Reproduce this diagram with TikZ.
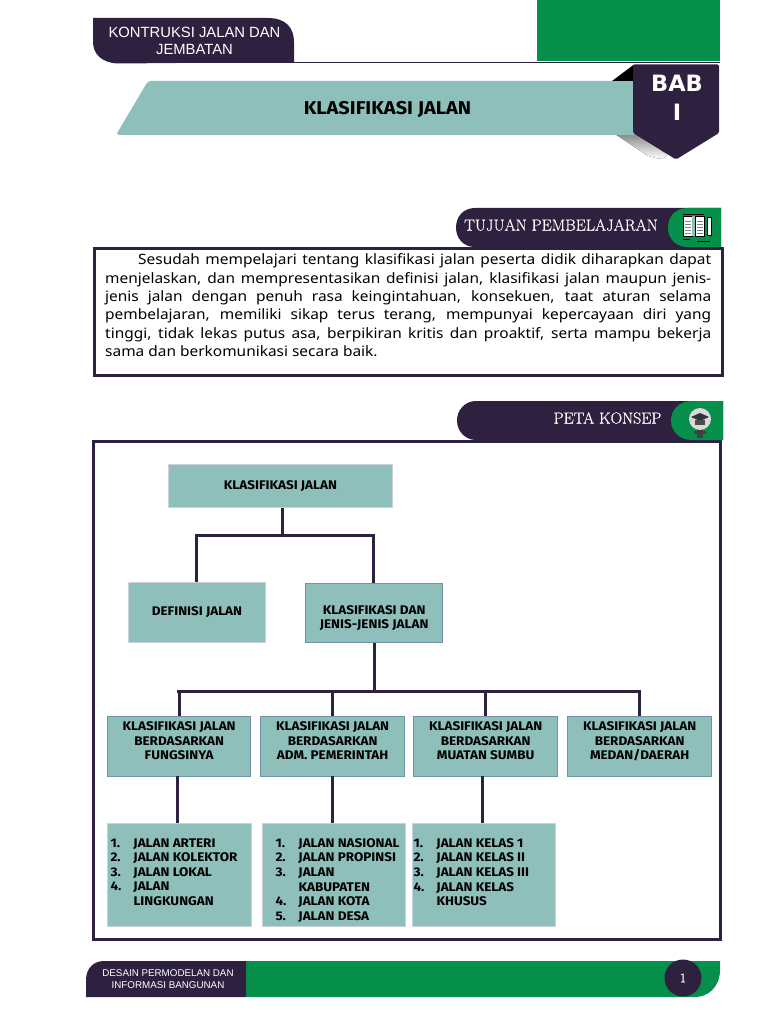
\documentclass[tikz,border=0pt]{standalone}
\usepackage{fontspec}
\setmainfont{Liberation Sans}
\newfontfamily\bodyf[FakeStretch=1.08]{Noto Sans}
\newfontfamily\boxf[FakeStretch=1.08]{Fira Sans}
\newfontfamily\babf{DejaVu Sans}
\newfontfamily\serf[FakeBold=0.5]{Latin Modern Roman}
\definecolor{ink}{HTML}{2E2140}
\definecolor{teal}{HTML}{8FBFBB}
\definecolor{grn}{HTML}{068F4A}
\definecolor{edge}{HTML}{6F93A8}
\definecolor{shade}{HTML}{C9D0DE}
\tikzset{
 x=1pt,y=-1pt,
 upperbox/.style={fill=teal,draw=shade,line width=1pt,inner sep=0pt,font=\boxf\bfseries\fontsize{12.5}{15}\selectfont,text=black,align=center},
 midbox/.style={fill=teal,draw=edge,line width=1.3pt,inner sep=0pt,font=\boxf\bfseries\fontsize{12.5}{14.7}\selectfont,text=black,align=center},
 listbox/.style={fill=teal,draw=shade,line width=1pt,inner sep=0pt,font=\boxf\bfseries\fontsize{12.5}{14.6}\selectfont,text=black,align=left,anchor=north west},
 wire/.style={draw=ink,line width=3pt},
 frame/.style={draw=ink,line width=3pt,fill=white},
 tabtext/.style={font=\serf\fontsize{16}{18}\selectfont,text=white,inner sep=0pt},
}
\newcommand{\boxat}[6]{\node[#1,minimum width=#4pt,minimum height=#5pt,anchor=north west] (#2) at (#3) {#6};}
\newcommand{\li}[2]{\makebox[23pt][l]{#1}#2\\}
\newcommand{\tailgap}{\\[-2.7pt]\mbox{}}
\begin{document}
\begin{tikzpicture}
\useasboundingbox (0,0) rectangle (768,1024);
\fill[white] (0,0) rectangle (768,1024);
% header
\fill[grn] (537,0) rectangle (720,61);
\draw[ink,line width=1.6pt] (118,62.5) -- (720,62.5);
\fill[ink] (93,18) -- (268,18) .. controls (286,18) and (294,28) .. (294,42) -- (294,62) -- (118,63.5) .. controls (102,63) and (93,54) .. (93,42) -- cycle;
\node[font=\fontsize{14.8}{17.2}\selectfont,text=white,align=center,inner sep=0pt] (htitle) at (194.5,41) {KONTRUKSI JALAN DAN\\JEMBATAN};
% ribbon
\fill[shade,rounded corners=3pt] (612,132) -- (640,132) -- (668,156) -- (660,159) -- (648,156) -- cycle;
\fill[teal,rounded corners=3pt] (148,81) -- (640,81) -- (640,135) -- (116,135) -- cycle;
\fill[black] (612,81) -- (634,64.5) -- (634,81) -- cycle;
\fill[ink,rounded corners=1.5pt] (633,64.5) -- (719,64.5) -- (719,133) -- (676,159.5) -- (633,133) -- cycle;
\node[font=\boxf\bfseries\fontsize{18.5}{22}\selectfont,text=black,inner sep=0pt] (rtitle) at (387.5,109) {KLASIFIKASI JALAN};
\node[font=\babf\bfseries\fontsize{22.5}{29}\selectfont,text=white,align=center,inner sep=0pt] (bab) at (677,97.5) {BAB\\I};
% tujuan
\fill[ink] (475,208) -- (721,208) -- (721,247) -- (475,247) .. controls (463,247) and (456,238) .. (456,227.5) .. controls (456,217) and (463,208) .. (475,208) -- cycle;
\fill[grn] (721,208) -- (688,208) .. controls (675,208) and (668,217) .. (668,227.5) .. controls (668,238) and (675,247) .. (688,247) -- (721,247) -- cycle;
\node[tabtext] (tuj) at (561,225) {TUJUAN PEMBELAJARAN};
\fill[white,draw=black,line width=.5pt] (683,216) rectangle (692,236);
\fill[white,draw=black,line width=.5pt] (695,216) rectangle (704,236);
\fill[teal] (692,216) rectangle (695,236);
\foreach \yy in {221,224,227,230,233}{\draw[gray,line width=.8pt] (684.5,\yy) -- (690.5,\yy) (696.5,\yy) -- (702.5,\yy);}
\fill[white,draw=black,line width=.5pt] (707,217) rectangle (711,235);
\draw[black,line width=.5pt] (683,214) -- (704,214) (683,239) -- (690,239) (697,241) -- (710,241);
% text frame
\draw[frame] (94,248) rectangle (722,375);
\node[anchor=north west,inner sep=0pt,text width=606pt,align=justify,font=\bodyf\fontsize{14.3}{18.45}\selectfont,text=black] (goal) at (105,253.5) {\hspace*{33pt}Sesudah mempelajari tentang klasifikasi jalan peserta didik diharapkan dapat\linebreak
menjelaskan, dan mempresentasikan definisi jalan, klasifikasi jalan maupun jenis-\linebreak
jenis jalan dengan penuh rasa keingintahuan, konsekuen, taat aturan selama\linebreak
pembelajaran, memiliki sikap terus terang, mempunyai kepercayaan diri yang\linebreak
tinggi, tidak lekas putus asa, berpikiran kritis dan proaktif, serta mampu bekerja\linebreak
sama dan berkomunikasi secara baik.};
% peta
\draw[frame] (93,441) rectangle (720,939);
\fill[ink] (476,401) -- (723,401) -- (723,440) -- (476,440) .. controls (465,440) and (457,431) .. (457,420.5) .. controls (457,410) and (465,401) .. (476,401) -- cycle;
\fill[grn] (723,401) -- (692,401) .. controls (679,401) and (671,410) .. (671,420.5) .. controls (671,431) and (679,440) .. (692,440) -- (723,440) -- cycle;
\node[tabtext] (peta) at (607.5,418) {PETA KONSEP};
\fill[black!75] (697,426) rectangle (703,438);
\fill[black!75] (694,431) rectangle (706,434);
\fill[white!85!black] (700,419) circle (11);
\fill[black!80] (691,417) -- (700,413) -- (709,417) -- (700,421) -- cycle;
\fill[black!70] (695,420) -- (705,420) -- (705,425) -- (695,425) -- cycle;
% boxes
\boxat{upperbox}{root}{168,464}{224}{43}{\raisebox{-1.5pt}{KLASIFIKASI JALAN}}
\boxat{upperbox}{defn}{128,582}{137}{60}{\raisebox{-2.5pt}{DEFINISI JALAN}}
\boxat{midbox}{kind}{305,583}{137}{59}{\rule{0pt}{9pt}\\[-4.7pt]KLASIFIKASI DAN\\JENIS-JENIS JALAN}
\boxat{midbox}{fa}{107,716}{143}{60}{KLASIFIKASI JALAN\\BERDASARKAN\\FUNGSINYA\tailgap}
\boxat{midbox}{fb}{260,716}{144}{60}{KLASIFIKASI JALAN\\BERDASARKAN\\ADM. PEMERINTAH\tailgap}
\boxat{midbox}{fc}{413,716}{144}{60}{KLASIFIKASI JALAN\\BERDASARKAN\\MUATAN SUMBU\tailgap}
\boxat{midbox}{fd}{567,716}{144}{60}{KLASIFIKASI JALAN\\BERDASARKAN\\MEDAN/DAERAH\tailgap}
\node[listbox,minimum width=144pt,minimum height=103pt] (la) at (107,823) {};
\node[listbox,minimum width=143pt,minimum height=103pt] (lb) at (262,823) {};
\node[listbox,minimum width=143pt,minimum height=103pt] (lc) at (412,823) {};
\node[listbox,anchor=north west,draw=none,fill=none] (ta) at (110,838) {\li{1.}{JALAN ARTERI}\li{2.}{JALAN KOLEKTOR}\li{3.}{JALAN LOKAL}\li{4.}{JALAN}\li{}{LINGKUNGAN}};
\node[listbox,anchor=north west,draw=none,fill=none] (tb) at (275,838) {\li{1.}{JALAN NASIONAL}\li{2.}{JALAN PROPINSI}\li{3.}{JALAN}\li{}{KABUPATEN}\li{4.}{JALAN KOTA}\li{5.}{JALAN DESA}};
\node[listbox,anchor=north west,draw=none,fill=none] (tc) at (413,838) {\li{1.}{JALAN KELAS 1}\li{2.}{JALAN KELAS II}\li{3.}{JALAN KELAS III}\li{4.}{JALAN KELAS}\li{}{KHUSUS}};
% connectors
\coordinate (busa) at (282,535);
\coordinate (busb) at (374,691);
\draw[wire] (busa |- root.south) -- (busa);
\draw[wire,line join=miter] (196,582) -- (196,535) -- (373,535) -- (373,583);
\draw[wire] (kind.south -| busb) -- (busb);
\draw[wire,line cap=rect] (178,691) -- (639,691);
\draw[wire] (fa.north) -- (fa.north |- busb);
\draw[wire] (fb.north) -- (fb.north |- busb);
\draw[wire] (fc.north) -- (fc.north |- busb);
\draw[wire] (fd.north) -- (fd.north |- busb);
\draw[wire] (177,776) -- (177,823);
\draw[wire] (332,776) -- (332,823);
\draw[wire] (482,776) -- (482,823);
% footer
\fill[grn] (246,961) -- (720,961) -- (720,970) .. controls (720,987) and (708,997) .. (695,997) -- (246,997) -- cycle;
\fill[ink] (86,997) -- (86,980) .. controls (86,968) and (94,961) .. (104,961) -- (246,961) -- (246,997) -- cycle;
\node[font=\fontsize{9.8}{12.4}\selectfont,text=white,align=center,inner sep=0pt] (fl) at (168,979) {DESAIN PERMODELAN DAN\\INFORMASI BANGUNAN};
\node[circle,fill=ink,minimum size=37pt,inner sep=0pt,text=white,font=\serf\fontsize{13}{15}\selectfont] (pg) at (683,978) {1};
\end{tikzpicture}
\end{document}
